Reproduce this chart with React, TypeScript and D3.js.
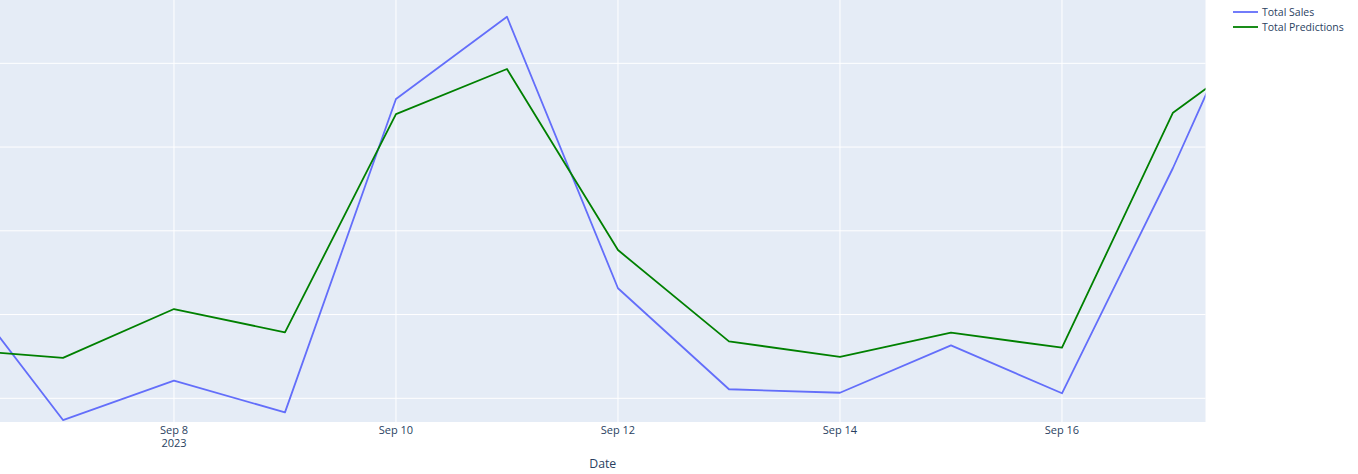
// Sales vs predictions line chart, drawn with D3 into an SVG ref
import React, { useEffect, useRef } from 'react';
import * as d3 from 'd3';

// Daily dates (Sep 6 and Sep 18 sit just outside the visible range)
const days = [6, 7, 8, 9, 10, 11, 12, 13, 14, 15, 16, 17, 18];
const dates = days.map(d => new Date(Date.UTC(2023, 8, d)));

// Series values
const totalSales = [1236, 370, 605, 416, 2287, 2778, 1157, 554, 533, 816, 530, 1875, 3350];
const totalPredictions = [794, 741, 1033, 894, 2197, 2466, 1385, 840, 747, 892, 802, 2205, 2690];

// Axis ticks and gridlines
const xTickDays = [8, 10, 12, 14, 16];
const yGridValues = [500, 1000, 1500, 2000, 2500];

const series = [
  { name: 'Total Sales', values: totalSales, color: '#636efa' },
  { name: 'Total Predictions', values: totalPredictions, color: 'green' },
];

const App: React.FC = () => {
  const svgRef = useRef<SVGSVGElement | null>(null);

  useEffect(() => {
    const svg = d3.select(svgRef.current);
    svg.selectAll('*').remove();

    const W = 1358;
    const H = 474;
    const plotW = 1205.5;
    const plotH = 422;
    const font = '"Open Sans", verdana, arial, sans-serif';
    const textColor = '#2a3f5f';

    svg.attr('width', W).attr('height', H);

    // Visible x range is a zoomed window: Sep 6 ~10:23 to Sep 17 ~07:02
    const x = d3
      .scaleUtc()
      .domain([
        new Date(Date.UTC(2023, 8, 6, 10, 23)),
        new Date(Date.UTC(2023, 8, 17, 7, 2)),
      ])
      .range([0, plotW]);

    const y = d3.scaleLinear().domain([358.5, 2878]).range([plotH, 0]);

    // Plot background
    svg
      .append('rect')
      .attr('x', 0)
      .attr('y', 0)
      .attr('width', plotW)
      .attr('height', plotH)
      .attr('fill', '#E5ECF6');

    // Gridlines
    const grid = svg.append('g');
    grid
      .selectAll('line.v')
      .data(xTickDays)
      .join('line')
      .attr('class', 'v')
      .attr('x1', d => x(new Date(Date.UTC(2023, 8, d))))
      .attr('x2', d => x(new Date(Date.UTC(2023, 8, d))))
      .attr('y1', 0)
      .attr('y2', plotH)
      .attr('stroke', '#fff')
      .attr('stroke-width', 1);
    grid
      .selectAll('line.h')
      .data(yGridValues)
      .join('line')
      .attr('class', 'h')
      .attr('x1', 0)
      .attr('x2', plotW)
      .attr('y1', d => y(d))
      .attr('y2', d => y(d))
      .attr('stroke', '#fff')
      .attr('stroke-width', 1);

    // Clip the lines to the plot area
    svg
      .append('clipPath')
      .attr('id', 'plot-clip')
      .append('rect')
      .attr('width', plotW)
      .attr('height', plotH);

    const line = d3
      .line<number>()
      .x((_, i) => x(dates[i]))
      .y(d => y(d));

    svg
      .append('g')
      .attr('clip-path', 'url(#plot-clip)')
      .selectAll('path')
      .data(series)
      .join('path')
      .attr('fill', 'none')
      .attr('stroke', d => d.color)
      .attr('stroke-width', 1.8)
      .attr('stroke-linejoin', 'round')
      .attr('d', d => line(d.values));

    // X tick labels
    const ticks = svg
      .append('g')
      .selectAll('text')
      .data(xTickDays)
      .join('text')
      .attr('x', d => x(new Date(Date.UTC(2023, 8, d))))
      .attr('y', 434)
      .attr('text-anchor', 'middle')
      .attr('font-family', font)
      .attr('font-size', 11)
      .attr('fill', textColor);
    ticks
      .append('tspan')
      .attr('x', d => x(new Date(Date.UTC(2023, 8, d))))
      .attr('dy', 0)
      .text(d => `Sep ${d}`);
    ticks
      .filter(d => d === 8)
      .append('tspan')
      .attr('x', d => x(new Date(Date.UTC(2023, 8, d))))
      .attr('dy', 12.7)
      .text('2023');

    // X axis title
    svg
      .append('text')
      .attr('x', plotW / 2)
      .attr('y', 467.5)
      .attr('text-anchor', 'middle')
      .attr('font-family', font)
      .attr('font-size', 12.3)
      .attr('fill', textColor)
      .text('Date');

    // Legend
    const legend = svg
      .append('g')
      .selectAll('g')
      .data(series)
      .join('g')
      .attr('transform', (_, i) => `translate(1233,${12 + i * 15})`);
    legend
      .append('line')
      .attr('x1', 0)
      .attr('x2', 25)
      .attr('stroke', d => d.color)
      .attr('stroke-width', 1.8);
    legend
      .append('text')
      .attr('x', 29)
      .attr('y', 3.8)
      .attr('font-family', font)
      .attr('font-size', 10.5)
      .attr('fill', textColor)
      .text(d => d.name);
  }, []);

  return (
    <div style={{ position: 'absolute', left: 0, top: 0 }}>
      <svg ref={svgRef} style={{ display: 'block' }}></svg>
    </div>
  );
};

export default App;
